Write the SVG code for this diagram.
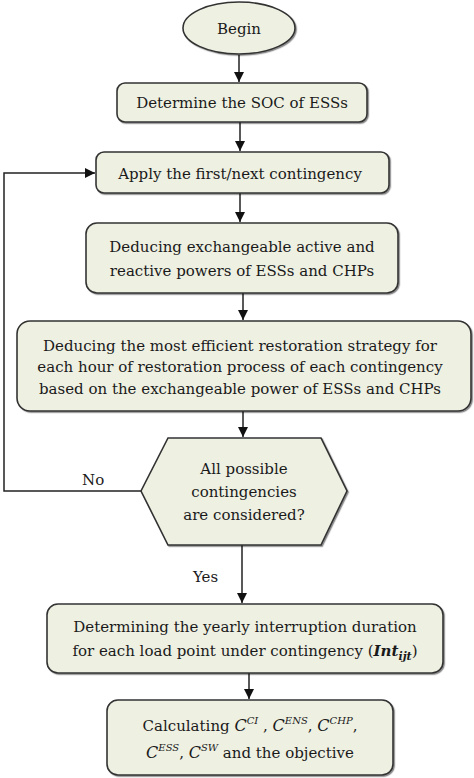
<svg xmlns="http://www.w3.org/2000/svg" width="474" height="778" viewBox="0 0 474 778">
<defs>
<marker id="ah" markerUnits="userSpaceOnUse" markerWidth="12" markerHeight="12" refX="10" refY="5" orient="auto">
<path d="M0,0 L10,5 L0,10 Z" fill="#111"/>
</marker>
<filter id="sh" x="-5%" y="-5%" width="110%" height="115%">
<feDropShadow dx="1.2" dy="1.2" stdDeviation="0.6" flood-color="#000" flood-opacity="0.45"/>
</filter>
<style>
.box{fill:#eef0e2;stroke:#333;stroke-width:1.6;filter:url(#sh)}
.t{font-family:"DejaVu Serif","Liberation Serif",serif;font-size:15px;fill:#1a1a1a;text-anchor:middle}
.m{font-family:"DejaVu Serif","Liberation Serif",serif;font-style:italic;font-size:16px}
.sup{font-size:10px;font-style:italic;font-family:"DejaVu Serif",serif}
.lbl{font-family:"DejaVu Serif","Liberation Serif",serif;font-size:15px;fill:#1a1a1a}
.c{fill:none;stroke:#222;stroke-width:1.5}
</style>
</defs>
<rect width="474" height="778" fill="#fff"/>
<g id="connectors">
<line class="c" x1="239" y1="55" x2="239" y2="82" marker-end="url(#ah)"/>
<line class="c" x1="240" y1="122" x2="240" y2="151" marker-end="url(#ah)"/>
<line class="c" x1="240" y1="193" x2="240" y2="222" marker-end="url(#ah)"/>
<line class="c" x1="243" y1="293" x2="243" y2="320" marker-end="url(#ah)"/>
<line class="c" x1="243" y1="411" x2="243" y2="437" marker-end="url(#ah)"/>
<line class="c" x1="242" y1="545" x2="242" y2="603" marker-end="url(#ah)"/>
<line class="c" x1="249" y1="673" x2="249" y2="699" marker-end="url(#ah)"/>
<polyline class="c" points="141,491 4,491 4,173 95,173" marker-end="url(#ah)"/>
<text class="lbl" x="82" y="485">No</text>
<text class="lbl" x="193" y="582">Yes</text>
</g>
<g id="begin">
<ellipse class="box" cx="239" cy="28" rx="56" ry="26"/>
<text class="t" x="239" y="34">Begin</text>
</g>
<g id="soc">
<rect class="box" x="117" y="83" width="250" height="39" rx="8"/>
<text class="t" x="242" y="108">Determine the SOC of ESSs</text>
</g>
<g id="apply">
<rect class="box" x="96" y="152" width="293" height="41" rx="8"/>
<text class="t" x="240" y="179">Apply the first/next contingency</text>
</g>
<g id="deduce1">
<rect class="box" x="86" y="223" width="312" height="70" rx="11"/>
<text class="t" x="242" y="252">Deducing exchangeable active and</text>
<text class="t" x="242" y="276">reactive powers of ESSs and CHPs</text>
</g>
<g id="deduce2">
<rect class="box" x="17" y="321" width="454" height="90" rx="13"/>
<text class="t" x="240" y="351">Deducing the most efficient restoration strategy for</text>
<text class="t" x="240" y="372">each hour of restoration process of each contingency</text>
<text class="t" x="240" y="394">based on the exchangeable power of ESSs and CHPs</text>
</g>
<g id="decision">
<polygon class="box" points="168,438 321,438 347,491 321,545 168,545 141,491"/>
<text class="t" x="244" y="474">All possible</text>
<text class="t" x="244" y="497">contingencies</text>
<text class="t" x="244" y="520">are considered?</text>
</g>
<g id="duration">
<rect class="box" x="47" y="604" width="396" height="69" rx="11"/>
<text class="t" x="245" y="632">Determining the yearly interruption duration</text>
<text class="t" x="245" y="656">for each load point under contingency (<tspan font-weight="bold" font-style="italic">Int</tspan><tspan font-weight="bold" font-style="italic" font-size="11" dy="4">ijt</tspan><tspan dy="-4">)</tspan></text>
</g>
<g id="calc">
<rect class="box" x="107" y="700" width="286" height="75" rx="11"/>
<text class="t" x="250" y="731">Calculating <tspan class="m">C</tspan><tspan class="sup" dy="-7">CI</tspan><tspan dy="7"> , </tspan><tspan class="m">C</tspan><tspan class="sup" dy="-7">ENS</tspan><tspan dy="7">, </tspan><tspan class="m">C</tspan><tspan class="sup" dy="-7">CHP</tspan><tspan dy="7">,</tspan></text>
<text class="t" x="250" y="758"><tspan class="m">C</tspan><tspan class="sup" dy="-7">ESS</tspan><tspan dy="7">, </tspan><tspan class="m">C</tspan><tspan class="sup" dy="-7">SW</tspan><tspan dy="7"> and the objective</tspan></text>
</g>
</svg>
